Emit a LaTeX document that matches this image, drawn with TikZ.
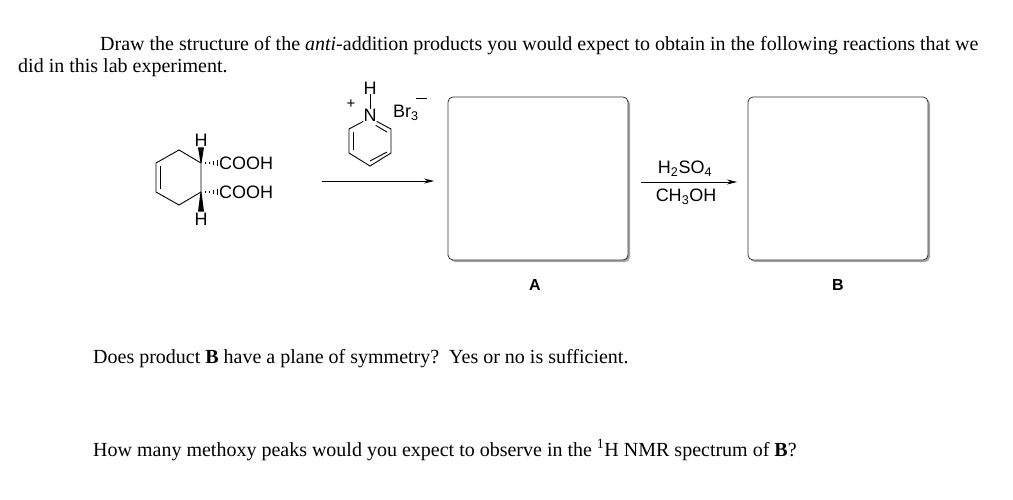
\documentclass[tikz,border=0pt]{standalone}
\usepackage{fontspec}
\setmainfont{Liberation Serif}
\newfontfamily\chem{Liberation Sans}
\usetikzlibrary{arrows.meta,shadows,calc}
\begin{document}
\begin{tikzpicture}[x=1pt,y=-1pt,
  txt/.style={font=\fontsize{20}{24}\selectfont,anchor=base west,inner sep=0},
  lab/.style={font=\chem\fontsize{18}{21}\selectfont,inner sep=0},
  bond/.style={line width=0.9pt},
  rxn/.style={line width=0.8pt,-{Stealth[length=10pt,width=5pt]}},
  answer/.style={draw=black!80,line width=0.8pt,rounded corners=5pt,fill=white,
    drop shadow={shadow xshift=2pt,shadow yshift=-2pt,fill=black!35,opacity=1}}]
\useasboundingbox (0,0) rectangle (1013,500);
\node[txt] (l1) at (100,51) {Draw the structure of the \textit{anti}-addition products you would expect to obtain in the following reactions that we};
\node[txt] (l2) at (18,73) {did in this lab experiment.};
% cyclohexene
\coordinate (c1) at (179,150);
\coordinate (c2) at (201,163);
\coordinate (c3) at (201,192);
\coordinate (c4) at (179,205);
\coordinate (c5) at (156,192);
\coordinate (c6) at (156,163);
\draw[bond] (c1)--(c2)--(c3)--(c4)--(c5)--(c6)--cycle;
\draw[bond] ($(c5)!0.12!(c6)+(4,0)$) -- ($(c6)!0.12!(c5)+(4,0)$);
\node[lab] (h1) at (201,140) {H};
\node[lab] (h2) at (201,219) {H};
\fill ($(c2)+(-0.5,0)$) -- ($(c2)+(0.5,0)$) -- ($(h1.south)+(3,1)$) -- ($(h1.south)+(-3,1)$) -- cycle;
\fill ($(c3)+(-0.5,0)$) -- ($(c3)+(0.5,0)$) -- ($(h2.north)+(3,-1)$) -- ($(h2.north)+(-3,-1)$) -- cycle;
\node[lab,anchor=west] (co1) at (219,163) {COOH};
\node[lab,anchor=west] (co2) at (219,192) {COOH};
\foreach \i in {0,...,3}{
  \draw[line width=0.8pt] ($(c2)+(4+\i*4,-0.6-\i*0.8)$) -- ($(c2)+(4+\i*4,0.6+\i*0.8)$);
  \draw[line width=0.8pt] ($(c3)+(4+\i*4,-0.6-\i*0.8)$) -- ($(c3)+(4+\i*4,0.6+\i*0.8)$);
}
% pyridinium
\node[lab] (n) at (370,115) {N};
\node[lab] (hn) at (370,88) {H};
\draw[bond] (hn.south) -- (n.north);
\node[lab,font=\chem\fontsize{15}{17}\selectfont] (plus) at (351,104) {+};
\node[lab,anchor=west] (br) at (393,113) {Br\textsubscript{3}};
\draw[line width=0.8pt] (416,98) -- (427,98);
\coordinate (p2) at (391,129);
\coordinate (p3) at (391,153);
\coordinate (p4) at (370,166);
\coordinate (p5) at (349,153);
\coordinate (p6) at (349,129);
\draw[bond] (n.south east) -- (p2) -- (p3) -- (p4) -- (p5) -- (p6) -- (n.south west);
\draw[bond] ($(n.south east)+(-1,4)$) -- ($(p2)+(-4,3)$);
\draw[bond] ($(p3)+(-4,-1)$) -- ($(p4)+(0,-5)$);
\draw[bond] ($(p5)+(4,-3)$) -- ($(p6)+(4,3)$);
% arrows and boxes
\coordinate (a1s) at (322,181);
\coordinate (a1e) at (434,181);
\draw[rxn] (a1s) -- (a1e);
\node[answer,minimum width=180,minimum height=163] (boxA) at (538,178.5) {};
\node[answer,minimum width=180,minimum height=163] (boxB) at (838,178.5) {};
\coordinate (a2s) at (641,182);
\coordinate (a2e) at (737,182);
\draw[rxn] (a2s) -- (a2e);
\node[lab] (h2so4) at (685,169) {H\textsubscript{2}SO\textsubscript{4}};
\node[lab] (meoh) at (686,197) {CH\textsubscript{3}OH};
\node[lab,font=\chem\bfseries\fontsize{16}{18}\selectfont] (la) at (535,285) {A};
\node[lab,font=\chem\bfseries\fontsize{16}{18}\selectfont] (lb) at (838,285) {B};
\node[txt] (q1) at (93,363) {Does product \textbf{B} have a plane of symmetry?\ \ Yes or no is sufficient.};
\node[txt] (q2) at (93,456) {How many methoxy peaks would you expect to observe in the \textsuperscript{1}H NMR spectrum of \textbf{B}?};
\end{tikzpicture}
\end{document}
